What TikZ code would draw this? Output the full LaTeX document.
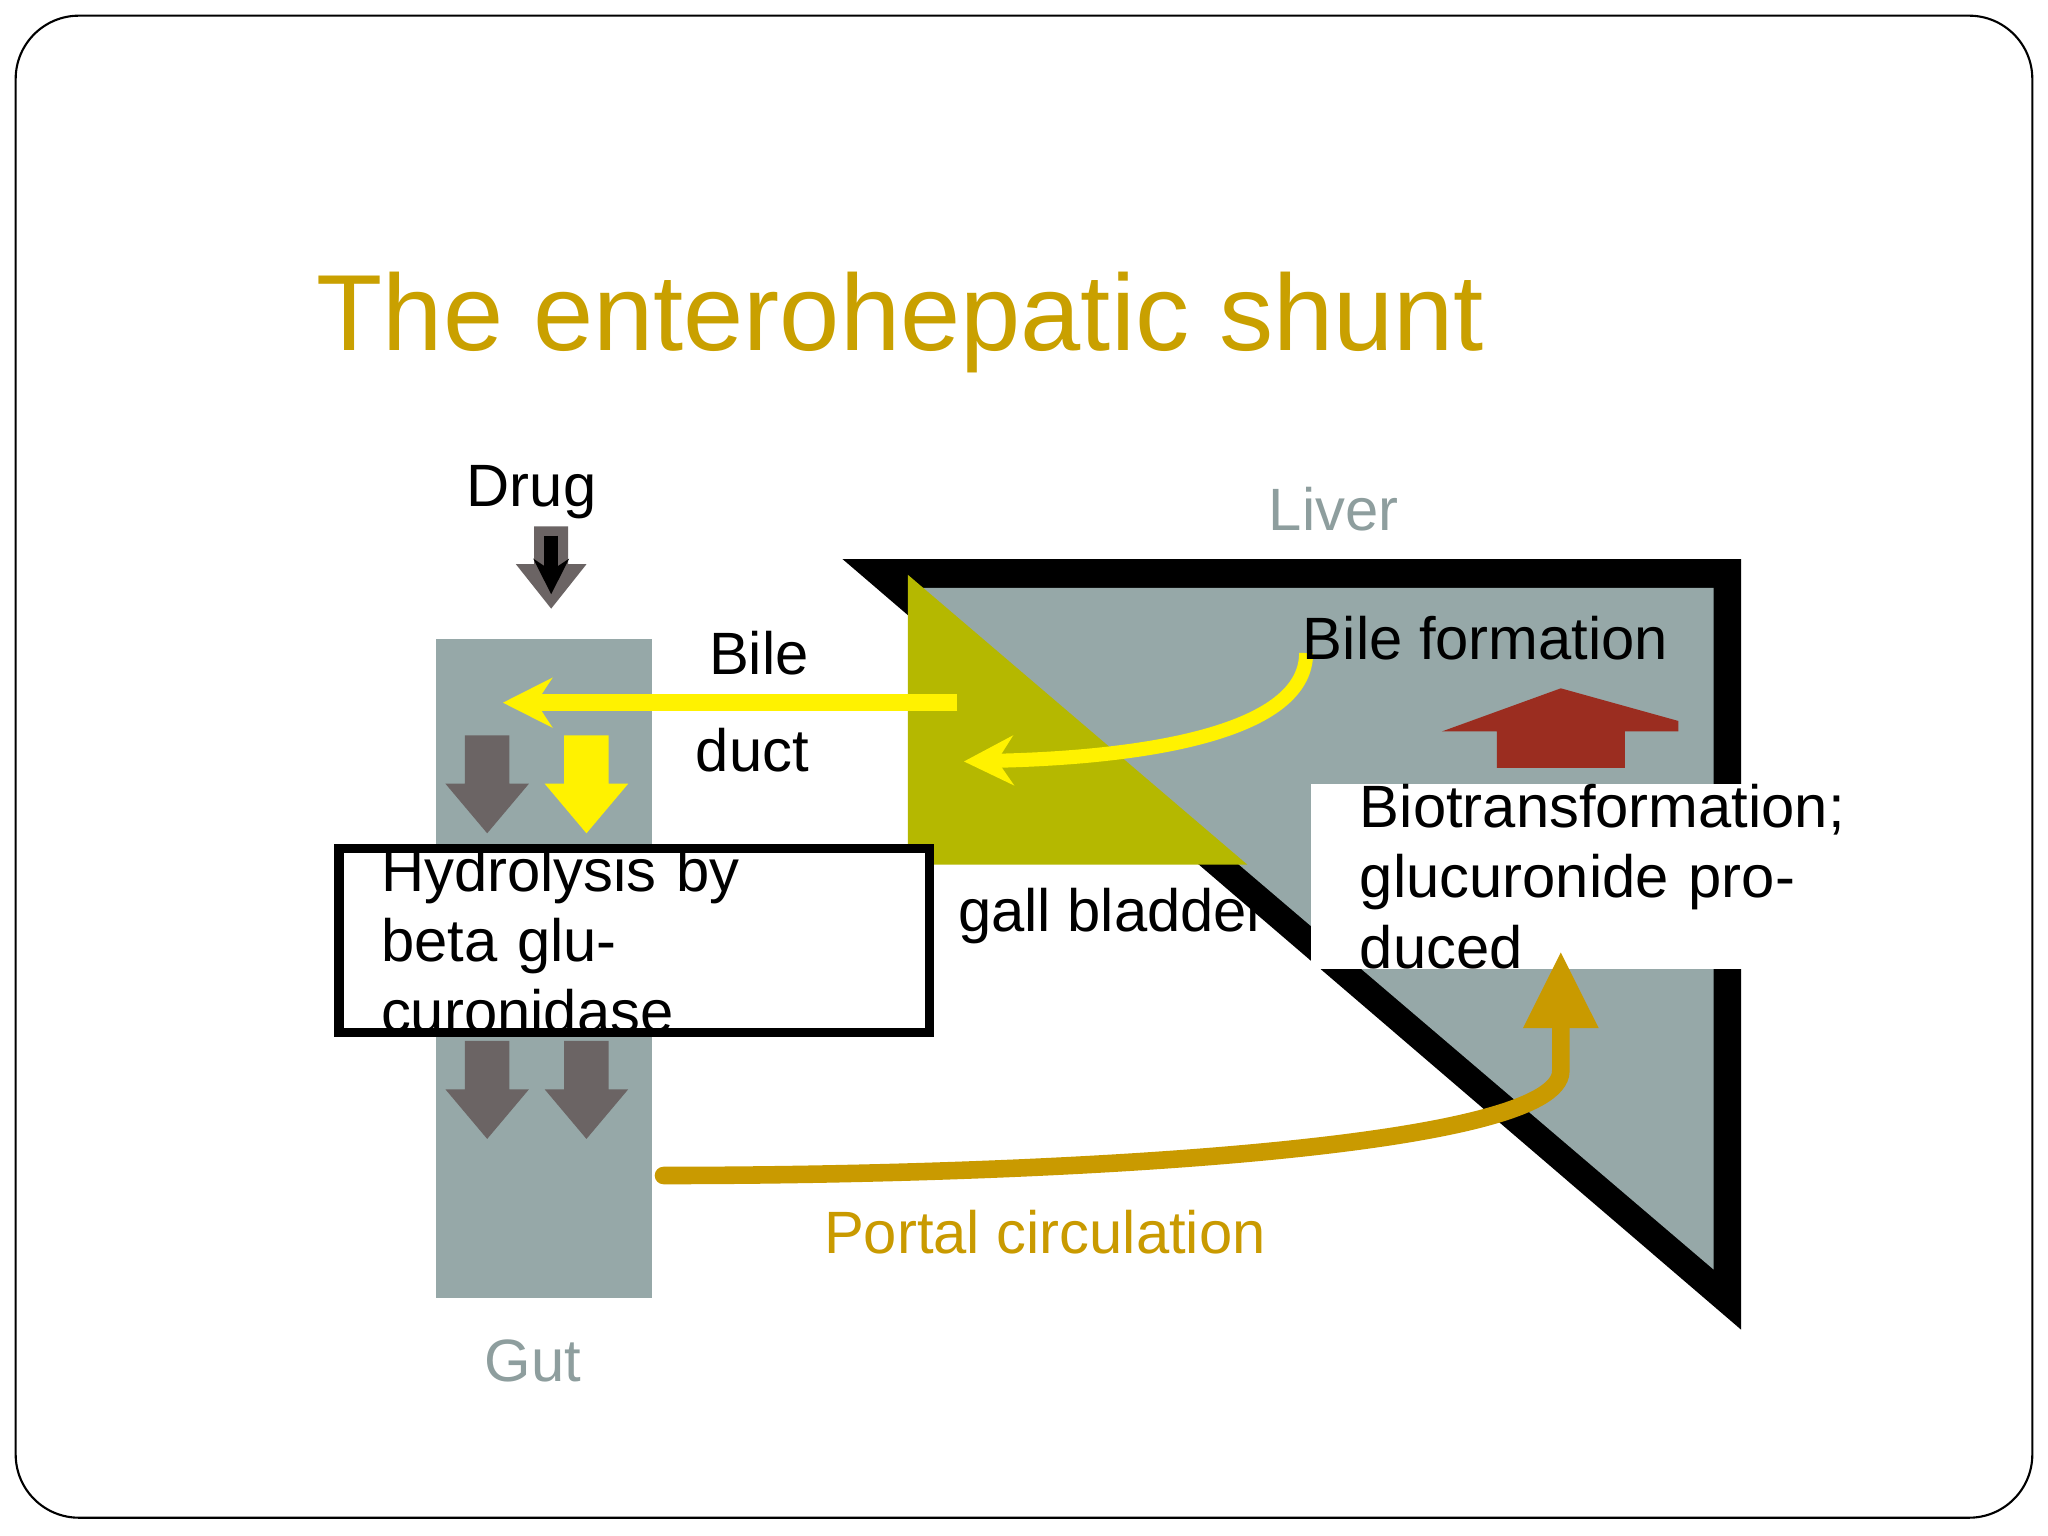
\documentclass[tikz,border=0pt]{standalone}
\usepackage{fontspec}
\setmainfont{Liberation Sans}
\usetikzlibrary{arrows.meta}
\definecolor{tgold}{HTML}{C9A000}
\definecolor{pgold}{HTML}{C99A00}
\definecolor{organ}{HTML}{96A8A8}
\definecolor{olive}{HTML}{B5B800}
\definecolor{dgray}{HTML}{6B6464}
\definecolor{dred}{HTML}{9B2D20}
\definecolor{lab}{HTML}{8E9E9E}
\newcommand\fatarr[5]{\fill[#5] (#1-#3,#2) -- (#1+#3,#2) -- (#1+#3,#4-38) -- (#1+32,#4-38) -- (#1,#4) -- (#1-32,#4-38) -- (#1-#3,#4-38) -- cycle;}
\tikzset{txt/.style={font=\fontsize{17pt}{20pt}\selectfont, inner sep=0pt}}
\begin{document}
\begin{tikzpicture}[x=0.01306cm,y=-0.01306cm]
\useasboundingbox (0,0) rectangle (1568,1176);
\fill[white] (0,0) rectangle (1568,1176);
\draw[line width=0.6pt, rounded corners=18pt] (12,12) rectangle (1556,1162);
\node[font=\fontsize{30.8pt}{36pt}\selectfont, text=tgold, anchor=base west, inner sep=0pt] (title) at (242,268) {The enterohepatic shunt};
% gut
\fill[organ] (334,489) rectangle (499,994);
\node[txt, text=lab] (gut) at (408,1042) {Gut};
% drug
\node[txt] (drug) at (407,377) {Drug};
\fill[dgray] (409,403) -- (435,403) -- (435,432) -- (449,432) -- (422,466) -- (395,432) -- (409,432) -- cycle;
\coordinate (d1) at (422,410); \coordinate (d2) at (422,455);
\draw[line width=4pt, -{Stealth[length=10pt,width=10pt]}] (d1) -- (d2);
% gall bladder label (under liver)
\node[txt, anchor=base west] (gb) at (733,713) {gall bladder};
% liver
\fill[black] (645,428) -- (1333,428) -- (1333,1018) -- cycle;
\fill[organ] (700,450) -- (1312,450) -- (1312,972) -- cycle;
\fill[olive] (695,440) -- (695,662) -- (955,662) -- cycle;
\node[txt, text=lab] (liver) at (1021,390) {Liver};
% bile duct
\coordinate (b1) at (733,538); \coordinate (b2) at (385,538);
\draw[yellow, line width=5pt, -{Stealth[length=14pt,width=14pt]}] (b1) -- (b2);
\node[txt] (bile) at (581,500) {Bile};
\node[txt] (duct) at (576,574) {duct};
\coordinate (c1) at (1000,500); \coordinate (c2) at (738,583);
\draw[yellow, line width=4pt, -{Stealth[length=14pt,width=14pt]}] (c1) .. controls (1000,560) and (880,580) .. (c2);
\node[txt, anchor=base west] (bf) at (997,505) {Bile formation};
% red arrow
\fill[dred] (1104,560) -- (1195,527) -- (1285,552) -- (1285,560) -- (1244,560) -- (1244,588) -- (1146,588) -- (1146,560) -- cycle;
% biotransformation box
\node[txt, fill=white, align=left, anchor=north west, inner xsep=14pt, inner ysep=0pt, text width=5.05cm, minimum height=1.59cm] (bio) at (1003,600) {Biotransformation;\\glucuronide produced};
% gut arrows
\fatarr{373}{563}{17}{638}{dgray}
\fatarr{449}{563}{17}{638}{yellow}
\fatarr{373}{797}{17}{872}{dgray}
\fatarr{449}{797}{17}{872}{dgray}
% hydrolysis box
\node[txt, draw, line width=2.6pt, fill=white, align=left, anchor=north west, text width=5.06cm, minimum height=1.61cm, inner xsep=12pt] (hyd) at (256,646) {Hydrolysis by\\beta glucuronidase};
% portal
\coordinate (p1) at (508,900); \coordinate (p2) at (1195,728);
\draw[pgold, line width=5pt, line cap=round, -{Triangle[length=22pt,width=20pt]}] (p1) .. controls (800,900) and (1195,880) .. (1195,820) -- (p2);
\node[txt, text=pgold] (portal) at (800,943) {Portal circulation};
\end{tikzpicture}
\end{document}
